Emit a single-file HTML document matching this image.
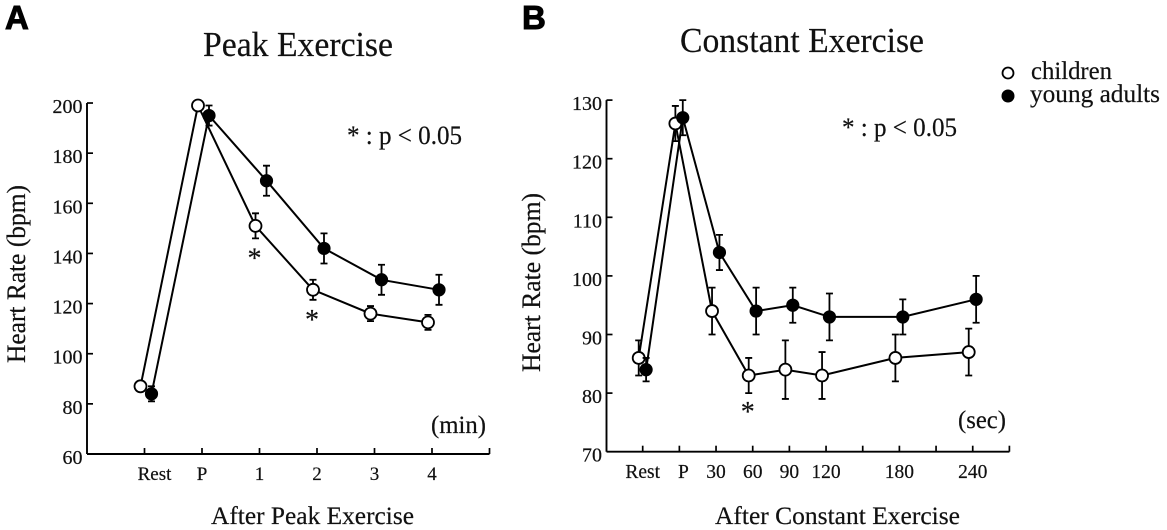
<!DOCTYPE html>
<html lang="en">
<head>
<meta charset="utf-8">
<title>Heart Rate After Exercise</title>
<style>
html,body{margin:0;padding:0;background:#fff;}
svg{display:block;}
text{font-family:"Liberation Serif",serif;fill:#111;stroke:#111;stroke-width:0.2px;}
.panel-letter{font-family:"Liberation Sans",sans-serif;font-weight:bold;font-size:33px;fill:#000;stroke:#000;stroke-width:1px;}
</style>
</head>
<body>
<svg id="chart" xmlns="http://www.w3.org/2000/svg" width="1167" height="530" viewBox="0 0 1167 530">
  <text class="panel-letter" x="5" y="29">A</text>
  <text class="panel-letter" x="522" y="29">B</text>
  <text x="203" y="56" font-size="34.5" textLength="190" lengthAdjust="spacingAndGlyphs">Peak Exercise</text>
  <text x="680" y="52" font-size="34.5" textLength="244" lengthAdjust="spacingAndGlyphs">Constant Exercise</text>
  <text transform="translate(25,363) rotate(-90)" font-size="26" textLength="178" lengthAdjust="spacingAndGlyphs">Heart Rate (bpm)</text>
  <text transform="translate(540,372) rotate(-90)" font-size="26" textLength="179" lengthAdjust="spacingAndGlyphs">Heart Rate (bpm)</text>
  <text x="211" y="524" font-size="25.5" textLength="203" lengthAdjust="spacingAndGlyphs">After Peak Exercise</text>
  <text x="715" y="524" font-size="25.5" textLength="245" lengthAdjust="spacingAndGlyphs">After Constant Exercise</text>
  <text x="431" y="433" font-size="25" textLength="55" lengthAdjust="spacingAndGlyphs">(min)</text>
  <text x="958" y="428" font-size="25" textLength="48" lengthAdjust="spacingAndGlyphs">(sec)</text>
  <text x="347" y="144" font-size="26" textLength="115" lengthAdjust="spacingAndGlyphs">* : p &lt; 0.05</text>
  <text x="842" y="136" font-size="26" textLength="115" lengthAdjust="spacingAndGlyphs">* : p &lt; 0.05</text>
  <g>
    <circle cx="1008" cy="73" r="5.5" fill="#fff" stroke="#000" stroke-width="1.8"/>
    <text x="1031" y="79" font-size="25" textLength="81" lengthAdjust="spacingAndGlyphs">children</text>
    <circle cx="1008" cy="96" r="6.5" fill="#000"/>
    <text x="1030" y="102" font-size="25" textLength="130" lengthAdjust="spacingAndGlyphs">young adults</text>
  </g>
</svg>
<script>
// Panel A data
const categoriesA = ['Rest', 'P', '1', '2', '3', '4', ''];
const yTicksA = [60, 80, 100, 120, 140, 160, 180, 200];
const childrenA = [87, 199, 151, 125.5, 116, 112.5, null];
const childrenErrA = [1, 1, 5, 4, 3, 3, null];
const adultsA = [84, 195, 169, 142, 129.5, 125.5, null];
const adultsErrA = [3, 4, 6, 6, 6, 6, null];
const starsA = [2, 3];

// Panel B data
const categoriesB = ['Rest', 'P', '30', '60', '90', '120', '', '180', '', '240', ''];
const yTicksB = [70, 80, 90, 100, 110, 120, 130];
const childrenB = [86, 126, 94, 83, 84, 83, null, 86, null, 87, null];
const childrenErrB = [3, 3, 4, 3, 5, 4, null, 4, null, 4, null];
const adultsB = [84, 127, 104, 94, 95, 93, null, 93, null, 96, null];
const adultsErrB = [2, 3, 3, 4, 3, 4, null, 3, null, 4, null];
const starsB = [3];

const svg = document.getElementById('chart');
const NS = 'http://www.w3.org/2000/svg';

function make(tag, attrs, parent) {
  const el = document.createElementNS(NS, tag);
  for (const k in attrs) el.setAttribute(k, attrs[k]);
  parent.appendChild(el);
  return el;
}

function drawSeries(root, label, values, errs, x, y, fill, radius) {
  const g = make('g', {}, root);
  
  
  const pts = [];
  values.forEach(function (v, i) {
    if (v !== null) pts.push(x(i).toFixed(1) + ',' + y(v).toFixed(1));
  });
  const line = make('polyline', { points: pts.join(' '), fill: 'none', stroke: '#000', 'stroke-width': 2 }, g);
  
  
  values.forEach(function (v, i) {
    if (v === null) return;
    const cx = x(i), hi = y(v + errs[i]), lo = y(v - errs[i]);
    const d = 'M' + cx + ' ' + hi + 'V' + lo +
      'M' + (cx - 3.5) + ' ' + hi + 'H' + (cx + 3.5) +
      'M' + (cx - 3.5) + ' ' + lo + 'H' + (cx + 3.5);
    const bar = make('path', { d: d, fill: 'none', stroke: '#000', 'stroke-width': 1.8 }, g);
    
    
  });
  values.forEach(function (v, i) {
    if (v === null) return;
    const dot = make('circle', { cx: x(i), cy: y(v), r: radius, fill: fill, stroke: '#000', 'stroke-width': 1.8 }, g);
    
    
  });
}

function drawPanel(p) {
  const root = make('g', {}, svg);
  
  

  const tickX = function (i) { return p.x0 + i * p.step; };
  const y = function (v) { return p.yBottom - (v - p.yTicks[0]) * p.pxPerUnit; };
  const top = y(p.yTicks[p.yTicks.length - 1]);
  const bottom = y(p.yTicks[0]);
  const xEnd = tickX(p.categories.length - 1);

  const yAxis = make('line', { x1: p.axisX, x2: p.axisX, y1: top, y2: bottom, stroke: '#000', 'stroke-width': 1.9 }, root);
  
  
  const xAxis = make('line', { x1: p.axisX, x2: xEnd, y1: bottom, y2: bottom, stroke: '#000', 'stroke-width': 1.9 }, root);
  
  

  p.yTicks.forEach(function (t) {
    if (t !== p.yTicks[0]) {
      const tick = make('line', { x1: p.axisX, x2: p.axisX + 6, y1: y(t), y2: y(t), stroke: '#000', 'stroke-width': 1.7 }, root);
      
      
    }
    const lab = make('text', { x: p.axisX - 4.5, y: y(t) + 10, 'text-anchor': 'end', 'font-size': 20 }, root);
    lab.textContent = t;
    
    
  });

  p.categories.forEach(function (c, i) {
    const tick = make('line', { x1: tickX(i), x2: tickX(i), y1: bottom - 6, y2: bottom, stroke: '#000', 'stroke-width': 1.7 }, root);
    
    
    if (c === '') return;
    const shift = p.labelShift[c] || p.labelShift.other;
    const lab = make('text', { x: tickX(i) + shift, y: p.labelY, 'text-anchor': 'middle', 'font-size': p.labelSize }, root);
    lab.textContent = c;
    
    
  });

  const xChild = function (i) { return tickX(i) + p.childOffset; };
  const xAdult = function (i) { return tickX(i) + p.adultOffset; };
  drawSeries(root, p.name + '-children', p.children, p.childrenErr, xChild, y, '#fff', 6);
  drawSeries(root, p.name + '-young-adults', p.adults, p.adultsErr, xAdult, y, '#000', 5.7);

  p.stars.forEach(function (i) {
    const star = make('text', { x: xChild(i) - 1, y: y(p.children[i] - p.childrenErr[i]) + p.starGap, 'text-anchor': 'middle', 'font-size': 28 }, root);
    star.textContent = '*';
    
    
  });
}

drawPanel({
  name: 'panel-a', categories: categoriesA, yTicks: yTicksA,
  children: childrenA, childrenErr: childrenErrA, adults: adultsA, adultsErr: adultsErrA, stars: starsA,
  axisX: 87, x0: 144.5, step: 57.5, yBottom: 454, pxPerUnit: 2.507,
  childOffset: -4, adultOffset: 7, labelY: 480, labelSize: 19,
  labelShift: { Rest: 10, other: 0 }, starGap: 29
});

drawPanel({
  name: 'panel-b', categories: categoriesB, yTicks: yTicksB,
  children: childrenB, childrenErr: childrenErrB, adults: adultsB, adultsErr: adultsErrB, stars: starsB,
  axisX: 606.5, x0: 642.7, step: 36.67, yBottom: 451.7, pxPerUnit: 5.86,
  childOffset: -4, adultOffset: 3.4, labelY: 478, labelSize: 19.5,
  labelShift: { P: 4, other: 0 }, starGap: 28
});
</script>
</body>
</html>
